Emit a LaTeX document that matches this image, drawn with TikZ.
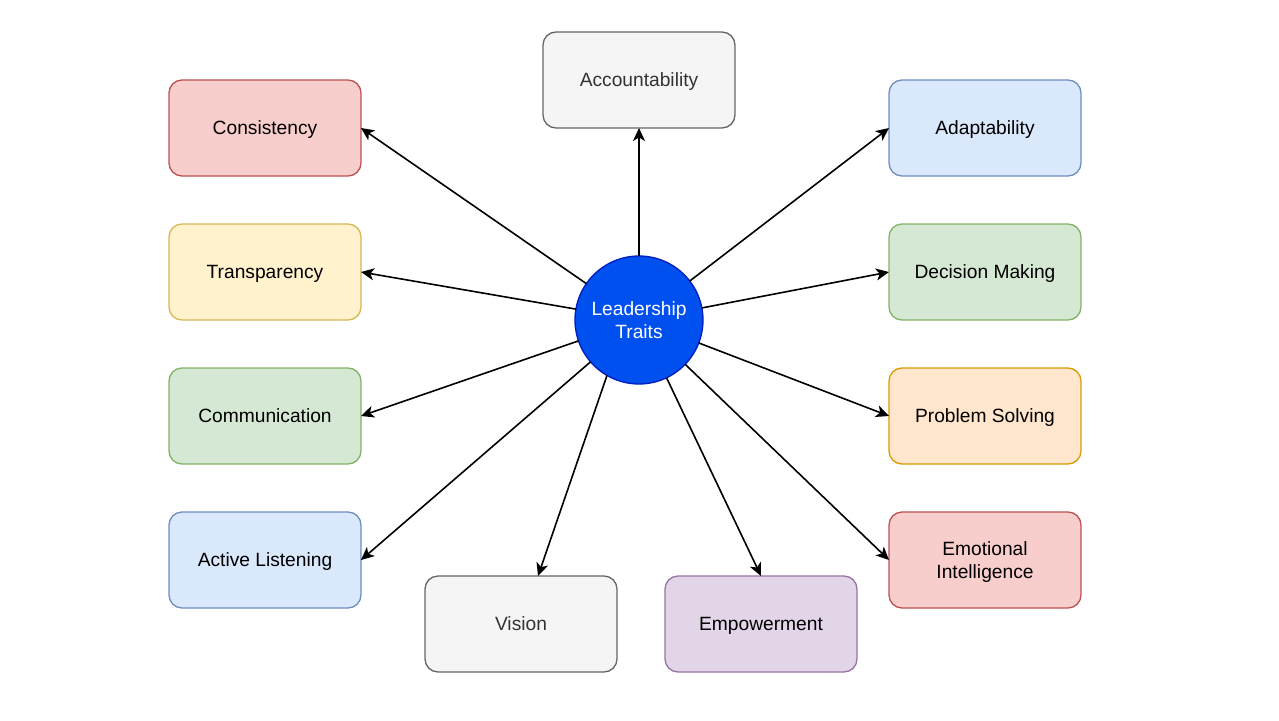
\documentclass[tikz,border=0pt]{standalone}
\usepackage{fontspec}
\setmainfont{Liberation Sans}
\usetikzlibrary{arrows.meta}
\definecolor{redF}{HTML}{F8CECC}\definecolor{redD}{HTML}{B85450}
\definecolor{yelF}{HTML}{FFF2CC}\definecolor{yelD}{HTML}{D6B656}
\definecolor{grnF}{HTML}{D5E8D4}\definecolor{grnD}{HTML}{82B366}
\definecolor{bluF}{HTML}{DAE8FC}\definecolor{bluD}{HTML}{6C8EBF}
\definecolor{orgF}{HTML}{FFE6CC}\definecolor{orgD}{HTML}{D79B00}
\definecolor{purF}{HTML}{E1D5E7}\definecolor{purD}{HTML}{9673A6}
\definecolor{gryF}{HTML}{F5F5F5}\definecolor{gryD}{HTML}{666666}
\definecolor{gryT}{HTML}{333333}
\definecolor{ctrF}{HTML}{0050EF}\definecolor{ctrD}{HTML}{001DBC}
\begin{document}
\begin{tikzpicture}[x=1pt,y=-1pt,
  trait/.style={draw, line width=1.3pt, rounded corners=13pt, minimum width=192pt, minimum height=96pt,
    inner sep=0pt, outer sep=0pt, align=center, text depth=0pt, font=\fontsize{19.2}{23}\selectfont},
  redbox/.style={trait, fill=redF, draw=redD},
  yelbox/.style={trait, fill=yelF, draw=yelD},
  grnbox/.style={trait, fill=grnF, draw=grnD},
  blubox/.style={trait, fill=bluF, draw=bluD},
  orgbox/.style={trait, fill=orgF, draw=orgD},
  purbox/.style={trait, fill=purF, draw=purD},
  grybox/.style={trait, fill=gryF, draw=gryD, text=gryT},
  centre/.style={circle, draw=ctrD, fill=ctrF, line width=1.3pt, minimum size=128pt, inner sep=0pt, outer sep=0pt,
    text=white, align=center, text depth=0pt, font=\fontsize{19.2}{23}\selectfont},
  arr/.style={line width=1.6pt, -{Stealth[length=13pt, width=12pt, inset=3.5pt]}}
]
\useasboundingbox (0,0) rectangle (1279,720);
\node[centre] (c) at (639,320) {Leadership\\Traits};
\node[grybox] (acc) at (639,80) {Accountability};
\node[redbox] (cons) at (265,128) {Consistency};
\node[blubox] (adap) at (985,128) {Adaptability};
\node[yelbox] (trans) at (265,272) {Transparency};
\node[grnbox] (dec) at (985,272) {Decision Making};
\node[grnbox] (comm) at (265,416) {Communication};
\node[orgbox] (prob) at (985,416) {Problem Solving};
\node[blubox] (act) at (265,560) {Active Listening};
\node[redbox] (emo) at (985,560) {Emotional\\Intelligence};
\node[grybox] (vis) at (521,624) {Vision};
\node[purbox] (emp) at (761,624) {Empowerment};
\draw[arr] (c) -- (acc.south);
\draw[arr] (c) -- (cons.east);
\draw[arr] (c) -- (adap.west);
\draw[arr] (c) -- (trans.east);
\draw[arr] (c) -- (dec.west);
\draw[arr] (c) -- (comm.east);
\draw[arr] (c) -- (prob.west);
\draw[arr] (c) -- (act.east);
\draw[arr] (c) -- (emo.west);
\draw[arr] (c.240) -- ([xshift=17pt]vis.north);
\draw[arr] (c) -- (emp.north);
\end{tikzpicture}
\end{document}
